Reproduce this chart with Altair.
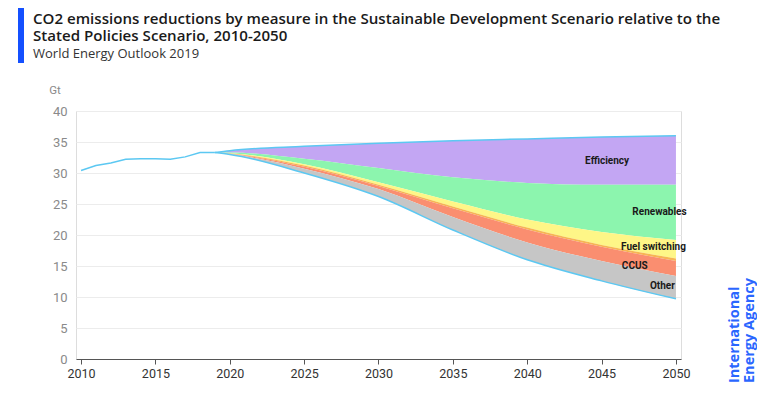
import altair as alt
import pandas as pd

# Historical emissions (Gt CO2)
hist_years = [2010, 2011, 2012, 2013, 2014, 2015, 2016, 2017, 2018, 2019]
hist_values = [30.4, 31.2, 31.6, 32.2, 32.3, 32.3, 32.2, 32.6, 33.3, 33.3]

# Projection years
proj_years = [2019, 2020, 2025, 2030, 2035, 2040, 2045, 2050]
# Stated Policies Scenario
steps_values = [33.3, 33.6, 34.3, 34.8, 35.2, 35.5, 35.8, 36.0]

# Reductions by measure (Gt), stacked top to bottom
measures = ["Efficiency", "Renewables", "Fuel switching", "Nuclear", "CCUS", "Other"]
efficiency = [0, 0.3, 2.0, 4.0, 5.9, 7.1, 7.7, 7.9]
renewables = [0, 0.1, 0.9, 2.3, 3.9, 5.9, 7.6, 8.9]
fuel_switching = [0, 0.05, 0.2, 0.4, 0.8, 1.3, 2.1, 3.0]
nuclear = [0, 0.05, 0.2, 0.2, 0.3, 0.3, 0.3, 0.4]
ccus = [0, 0.05, 0.3, 0.5, 1.4, 2.1, 2.3, 2.4]
other = [0, 0.05, 0.7, 1.2, 2.1, 2.8, 3.2, 3.7]
colors = ["#c3a6f3", "#8cf5ae", "#fef687", "#f7b553", "#fa8e70", "#c6c6c6"]

# Labels (text, end year, value)
label_text = ["Efficiency", "Renewables", "Fuel switching", "CCUS", "Other"]
label_year = [2046.85, 2050.72, 2050.67, 2048.1, 2049.93]
label_value = [31.9, 23.7, 18.0, 15.0, 11.7]

series = [efficiency, renewables, fuel_switching, nuclear, ccus, other]
rows = []
for i, yr in enumerate(proj_years):
    top = steps_values[i]
    for m, s in zip(measures, series):
        bottom = top - s[i]
        rows.append({"year": yr, "measure": m, "top": top, "bottom": bottom})
        top = bottom
area_df = pd.DataFrame(rows)

sds_values = [steps_values[i] - sum(s[i] for s in series) for i in range(len(proj_years))]
steps_df = pd.DataFrame({"year": proj_years, "value": steps_values})
sds_df = pd.DataFrame({"year": proj_years, "value": sds_values})
hist_df = pd.DataFrame({"year": hist_years, "value": hist_values})
lab_df = pd.DataFrame({"label": label_text, "year": label_year, "value": label_value})

xscale = alt.Scale(domain=[2009.66, 2050.34], nice=False, zero=False)
yscale = alt.Scale(domain=[0, 40], nice=False)

xaxis = alt.Axis(values=list(range(2010, 2051, 5)), format="d", title=None,
                 grid=False, tickColor="#555555", tickSize=5, domainColor="#555555",
                 labelColor="#333333", labelFontSize=12.5, labelPadding=3,
                 labelFont="Roboto")
yaxis = alt.Axis(values=list(range(0, 41, 5)), title=None, ticks=False, domain=False,
                 gridColor="#ececec", labelColor="#8a8a8a", labelFontSize=13,
                 labelPadding=9, labelFont="Roboto", labelOverlap=False)

areas = alt.Chart(area_df).mark_area(interpolate="monotone").encode(
    x=alt.X("year:Q", scale=xscale, axis=xaxis),
    y=alt.Y("top:Q", scale=yscale, axis=yaxis),
    y2="bottom:Q",
    color=alt.Color("measure:N", scale=alt.Scale(domain=measures, range=colors), legend=None),
    order=alt.Order("measure:N"),
)

line_color = "#5cc8f2"
def line(df, interp):
    return alt.Chart(df).mark_line(interpolate=interp, color=line_color, strokeWidth=1.5).encode(
        x=alt.X("year:Q", scale=xscale, axis=xaxis),
        y=alt.Y("value:Q", scale=yscale, axis=yaxis))

steps_line = line(steps_df, "monotone")
sds_line = line(sds_df, "monotone")
hist_line = line(hist_df, "linear")

labels = alt.Chart(lab_df).mark_text(align="right", baseline="middle", fontSize=10,
                                     fontWeight="bold", font="Roboto", color="#1a1a1a").encode(
    x=alt.X("year:Q", scale=xscale, axis=xaxis),
    y=alt.Y("value:Q", scale=yscale, axis=yaxis), text="label:N")

one = pd.DataFrame({"a": [0]})

bar = alt.Chart(one).mark_rect(color="#1450ff").encode(
    x=alt.value(-58), x2=alt.value(-52), y=alt.value(-103), y2=alt.value(-48))

tfont = "Open Sans"
title1 = alt.Chart(one).mark_text(align="left", baseline="alphabetic", fontSize=15.1,
                                  fontWeight=600, font=tfont, color="#1a1a1a").encode(
    x=alt.value(-43), y=alt.value(-87.5),
    text=alt.value("CO2 emissions reductions by measure in the Sustainable Development Scenario relative to the"))
title2 = alt.Chart(one).mark_text(align="left", baseline="alphabetic", fontSize=15.1,
                                  fontWeight=600, font=tfont, color="#1a1a1a").encode(
    x=alt.value(-43), y=alt.value(-70),
    text=alt.value("Stated Policies Scenario, 2010-2050"))
subtitle = alt.Chart(one).mark_text(align="left", baseline="alphabetic", fontSize=13,
                                    font=tfont, color="#333333").encode(
    x=alt.value(-43), y=alt.value(-53), text=alt.value("World Energy Outlook 2019"))
unit = alt.Chart(one).mark_text(align="center", baseline="middle", fontSize=11.5,
                                font="Roboto", color="#8a8a8a").encode(
    x=alt.value(-21), y=alt.value(-20), text=alt.value("Gt"))
iea1 = alt.Chart(one).mark_text(align="left", baseline="middle", angle=270, fontSize=14.5,
                                fontWeight="bold", font="Open Sans", color="#2a66ff").encode(
    x=alt.value(659), y=alt.value(272), text=alt.value("International"))
iea2 = alt.Chart(one).mark_text(align="left", baseline="middle", angle=270, fontSize=14.5,
                                fontWeight="bold", font="Open Sans", color="#2a66ff").encode(
    x=alt.value(674), y=alt.value(272), text=alt.value("Energy Agency"))

chart = alt.layer(areas, steps_line, sds_line, hist_line, labels,
                  bar, title1, title2, subtitle, unit, iea1, iea2).properties(
    width=605, height=248,
    autosize=alt.AutoSizeParams(type="none"),
    padding={"left": 68, "top": 103, "right": 76, "bottom": 33},
).configure_view(strokeWidth=0).configure(background="white")

chart.save("out.html", embed_options={"renderer": "svg", "actions": False})
